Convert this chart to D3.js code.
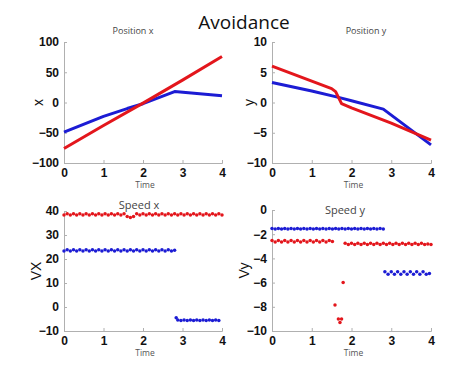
<!DOCTYPE html>
<html><head><meta charset="utf-8">
<script src="https://cdn.jsdelivr.net/npm/d3@7"></script>
<style>body{margin:0;background:#fff}svg{display:block}</style>
</head><body>
<svg id="c" width="474" height="369"></svg>
<script>
// ---- data ----
const chartTitle = "Avoidance";
const xTicks = [0, 1, 2, 3, 4];
const posXTicks = [-100, -50, 0, 50, 100];
const posYTicks = [-10, -5, 0, 5, 10];
const speedXTicks = [-10, 0, 10, 20, 30, 40];
const speedYTicks = [-10, -8, -6, -4, -2, 0];

// Position x
const posXRedT = [0, 1, 2, 3, 4];
const posXRedV = [-76, -38, -1, 37, 76];
const posXBlueT = [0, 1, 1.6, 2, 2.8, 4];
const posXBlueV = [-49, -23, -10, -2, 18, 11];

// Position y
const posYRedT = [0, 1.5, 1.6, 1.75, 2, 3, 4];
const posYRedV = [6.0, 2.3, 1.8, -0.2, -0.9, -3.4, -6.2];
const posYBlueT = [0, 1, 1.7, 2, 2.8, 4];
const posYBlueV = [3.3, 1.9, 0.8, 0.3, -1.1, -7.0];

// Speed samples (sample step 0.08 s)
const sampleStep = 0.08;
const speedXRedStart = 0;
const speedXRedV = [38.3,38.9,38.3,38.9,38.3,38.9,38.3,38.9,38.3,38.9,38.3,38.9,38.3,38.9,38.3,38.9,38.3,38.9,38.3,38.9,
  37.7,37.3,37.7,38.9,38.3,38.9,38.3,38.9,38.3,38.9,38.3,38.9,38.3,38.9,38.3,38.9,38.3,38.9,38.3,38.9,38.3,38.9,38.3,38.9,38.3,38.9,38.3,38.9,38.3,38.9,38.3];
const speedXBlue1Start = 0;
const speedXBlue1V = [23.3,23.9,23.3,23.9,23.3,23.9,23.3,23.9,23.3,23.9,23.3,23.9,23.3,23.9,23.3,23.9,23.3,23.9,
  23.3,23.9,23.3,23.9,23.3,23.9,23.3,23.9,23.3,23.9,23.3,23.9,23.3,23.9,23.3,23.9,23.3,23.6];
const speedXBlueJumpT = [2.84];
const speedXBlueJumpV = [-4.5];
const speedXBlue2Start = 2.88;
const speedXBlue2V = [-5.4,-5.6,-5.4,-5.6,-5.4,-5.6,-5.4,-5.6,-5.4,-5.6,-5.4,-5.6,-5.4,-5.6];

const speedYRed1Start = 0;
const speedYRed1V = [-2.52,-2.64,-2.52,-2.64,-2.52,-2.64,-2.52,-2.64,-2.52,-2.64,-2.52,-2.64,-2.52,-2.64,-2.52,-2.64,-2.52,-2.64,-2.52,-2.6];
const speedYRedOutT = [1.585, 1.67, 1.71, 1.75, 1.79];
const speedYRedOutV = [-7.85, -9.0, -9.3, -9.0, -6.0];
const speedYRed2Start = 1.84;
const speedYRed2V = [-2.74,-2.86,-2.74,-2.86,-2.74,-2.86,-2.74,-2.86,-2.74,-2.86,-2.74,-2.86,-2.74,-2.86,
  -2.74,-2.86,-2.74,-2.86,-2.74,-2.86,-2.74,-2.86,-2.74,-2.86,-2.74,-2.86,-2.8,-2.86];
const speedYBlue1Start = 0;
const speedYBlue1V = [-1.52,-1.56,-1.52,-1.56,-1.52,-1.56,-1.52,-1.56,-1.52,-1.56,-1.52,-1.56,-1.52,-1.56,-1.52,-1.56,-1.52,-1.56,
  -1.52,-1.56,-1.52,-1.56,-1.52,-1.56,-1.52,-1.56,-1.52,-1.56,-1.52,-1.56,-1.52,-1.56,-1.52,-1.56,-1.52,-1.56];
const speedYBlue2Start = 2.84;
const speedYBlue2V = [-5.1,-5.3,-5.1,-5.3,-5.1,-5.3,-5.1,-5.3,-5.1,-5.3,-5.1,-5.3,-5.1,-5.3,-5.25];

// ---- drawing ----
const RED = "#e3161c", BLUE = "#1c1cd4";
const svg = d3.select("#c");
svg.append("text").attr("x", 244).attr("y", 29).attr("text-anchor", "middle")
  .attr("font-family", "'Open Sans', sans-serif").attr("font-size", 19).attr("fill", "#111").text(chartTitle);

function panel(cfg) {
  const x = d3.scaleLinear().domain([0, 4]).range([cfg.l, cfg.r]);
  const y = d3.scaleLinear().domain(cfg.yd).range([cfg.b, cfg.t]);
  const g = svg.append("g");
  const ax = g.append("g").attr("transform", `translate(0,${cfg.b})`)
    .call(d3.axisBottom(x).tickValues(xTicks).tickSize(-3).tickPadding(5).tickFormat(d3.format("d")));
  const ay = g.append("g").attr("transform", `translate(${cfg.l},0)`)
    .call(d3.axisLeft(y).tickValues(cfg.ticks).tickSize(-3).tickPadding(5).tickFormat(d3.format("d")));
  [ax, ay].forEach(a => {
    a.select(".domain").attr("stroke", "#b0b0b0");
    a.selectAll(".tick line").attr("stroke", "#b0b0b0");
    a.selectAll(".tick text").attr("font-family", "'Liberation Sans', Arial, sans-serif")
      .attr("font-weight", "bold").attr("font-size", 12).attr("fill", "#111");
  });
  ax.selectAll(".tick text").attr("dy", "0.71em");
  g.append("text").attr("x", (cfg.l + cfg.r) / 2 + 2).attr("y", cfg.b + 25).attr("text-anchor", "middle")
    .attr("font-family", "'Open Sans', sans-serif").attr("font-size", 8.5).attr("fill", "#555").text("Time");
  g.append("text").attr("transform", `translate(${cfg.ylx},${(cfg.t + cfg.b) / 2}) rotate(-90)`)
    .attr("text-anchor", "middle").attr("font-family", "'Liberation Sans', Arial, sans-serif")
    .attr("font-size", 14).attr("fill", "#111").text(cfg.ylabel);
  g.append("text").attr("x", cfg.tx).attr("y", cfg.ty).attr("text-anchor", "middle")
    .attr("font-family", "'Open Sans', sans-serif").attr("font-size", cfg.tfs).attr("fill", "#444").text(cfg.title);
  return { x, y, g };
}

function drawLine(p, ts, vs, color) {
  const pts = ts.map((t, i) => [t, vs[i]]);
  p.g.append("path").datum(pts).attr("fill", "none").attr("stroke", color).attr("stroke-width", 3)
    .attr("stroke-linejoin", "round")
    .attr("d", d3.line().x(d => p.x(d[0])).y(d => p.y(d[1])));
}
function drawDots(p, start, vs, color, ts) {
  const pts = vs.map((v, i) => [ts ? ts[i] : start + i * sampleStep, v]);
  p.g.append("g").selectAll("circle").data(pts).join("circle")
    .attr("cx", d => p.x(d[0])).attr("cy", d => p.y(d[1])).attr("r", 1.75).attr("fill", color);
}

const pA = panel({ l: 64, r: 222, t: 42, b: 163, yd: [-100, 100], ticks: posXTicks, ylabel: "x", ylx: 43, title: "Position x", tx: 133, ty: 34, tfs: 9 });
drawLine(pA, posXBlueT, posXBlueV, BLUE);
drawLine(pA, posXRedT, posXRedV, RED);

const pB = panel({ l: 272, r: 431, t: 42, b: 163, yd: [-10, 10], ticks: posYTicks, ylabel: "y", ylx: 254, title: "Position y", tx: 366, ty: 34, tfs: 9 });
drawLine(pB, posYBlueT, posYBlueV, BLUE);
drawLine(pB, posYRedT, posYRedV, RED);

const pC = panel({ l: 64, r: 222, t: 211, b: 331, yd: [-10, 40], ticks: speedXTicks, ylabel: "VX", ylx: 41, title: "Speed x", tx: 139, ty: 209, tfs: 11 });
drawDots(pC, speedXRedStart, speedXRedV, RED);
drawDots(pC, speedXBlue1Start, speedXBlue1V, BLUE);
drawDots(pC, 0, speedXBlueJumpV, BLUE, speedXBlueJumpT);
drawDots(pC, speedXBlue2Start, speedXBlue2V, BLUE);

const pD = panel({ l: 272, r: 431, t: 210, b: 331, yd: [-10, 0], ticks: speedYTicks, ylabel: "Vy", ylx: 249, title: "Speed y", tx: 345, ty: 214, tfs: 11 });
drawDots(pD, speedYBlue1Start, speedYBlue1V, BLUE);
drawDots(pD, speedYBlue2Start, speedYBlue2V, BLUE);
drawDots(pD, speedYRed1Start, speedYRed1V, RED);
drawDots(pD, 0, speedYRedOutV, RED, speedYRedOutT);
drawDots(pD, speedYRed2Start, speedYRed2V, RED);
</script>
</body></html>
